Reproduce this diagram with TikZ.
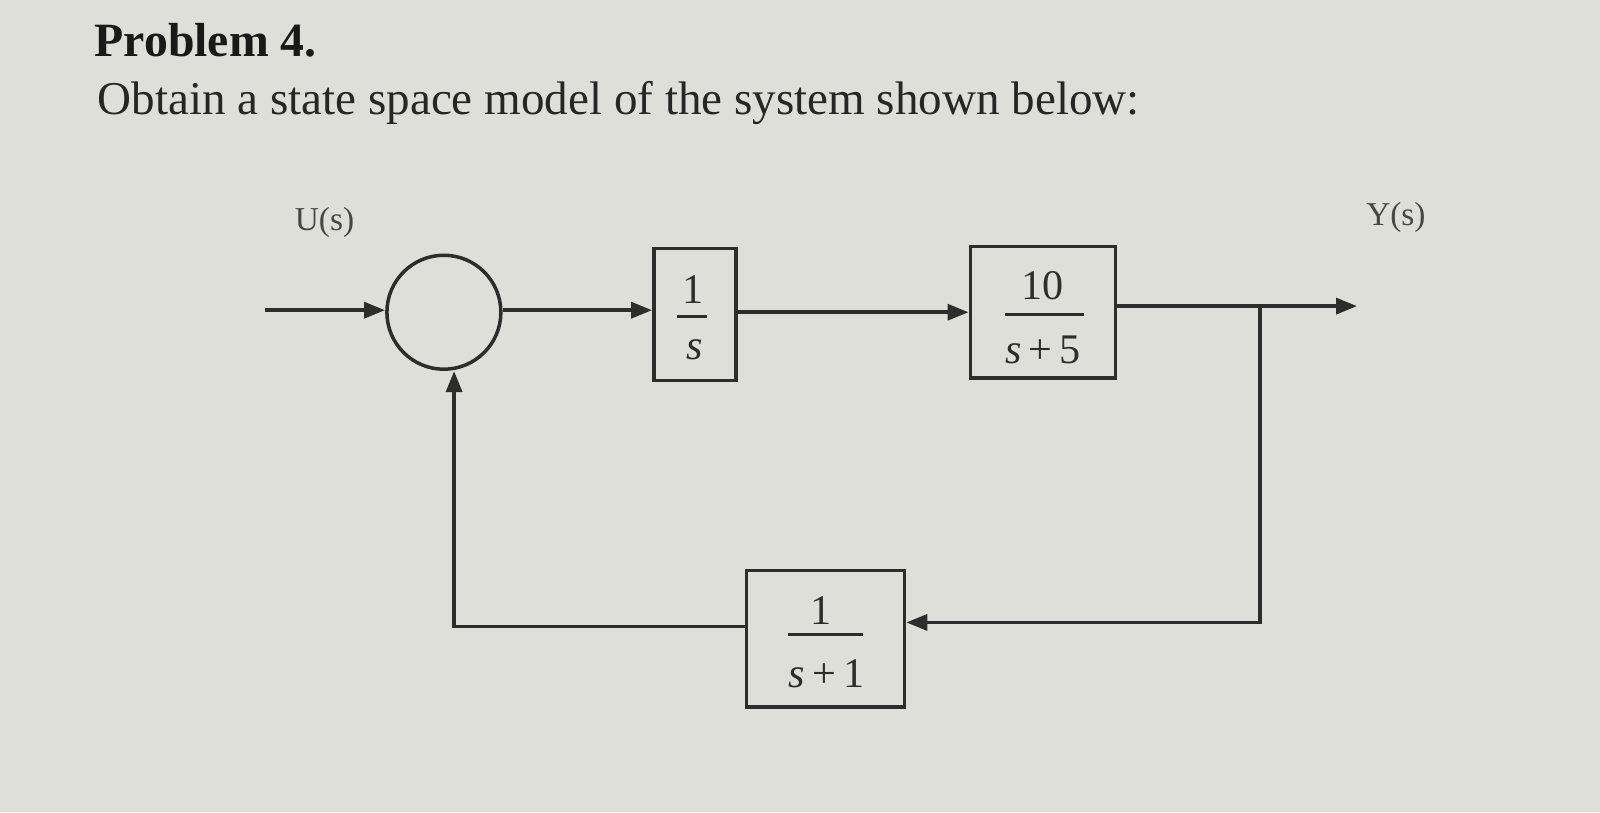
\documentclass[tikz,border=0pt]{standalone}
\usepackage{fontspec}
\setmainfont{Liberation Serif}
\usetikzlibrary{arrows.meta}
\definecolor{bg}{RGB}{223,223,217}
\definecolor{ink}{RGB}{45,45,45}
\definecolor{lbl}{RGB}{70,70,70}
\begin{document}
\begin{tikzpicture}[x=0.010204cm,y=-0.010204cm,
  wire/.style={draw=ink, line width=1.1pt},
  sig/.style={wire, -{Triangle[length=6pt,width=4.5pt]}},
  tfbox/.style={draw=ink, line width=1pt, inner sep=0pt},
  fr/.style={font=\fontsize{12}{12}\selectfont, text=ink, inner sep=0pt},
  bar/.style={draw=ink, line width=0.8pt},
  lab/.style={font=\fontsize{9.5}{9.5}\selectfont, text=lbl}]
\fill[bg] (0,0) rectangle (1568,796);
\useasboundingbox (0,0) rectangle (1568,796);
% titles
\node[anchor=base west, inner sep=0pt, font=\fontsize{13.6}{13.6}\selectfont\bfseries, text=black!90] (t1) at (92,55) {Problem 4.};
\node[anchor=base west, inner sep=0pt, font=\fontsize{13.4}{13.4}\selectfont, text=black!85] (t2) at (95,112) {Obtain a state space model of the system shown below:};
% labels
\node[lab] (ul) at (318,218) {U(s)};
\node[lab] (yl) at (1368,213) {Y(s)};
% blocks
\node[circle, draw=ink, line width=1pt, minimum size=1.14cm, inner sep=0pt] (sum) at (435,306) {};
\node[tfbox, minimum width=0.82cm, minimum height=1.32cm] (b1) at (681,308) {};
\node[tfbox, minimum width=1.45cm, minimum height=1.32cm] (b2) at (1022,306) {};
\node[tfbox, minimum width=1.58cm, minimum height=1.37cm] (b3) at (809,626) {};
% fractions
\node[fr] (n1) at (679,284) {1};
\draw[bar] (663,310) -- (693,310);
\node[fr] (d1) at (681,343) {\textit{s}};
\node[fr] (n2) at (1022,280) {10};
\draw[bar] (985,308) -- (1062,308);
\node[fr] (d2) at (1022,343) {\textit{s}\,+\,5};
\node[fr] (n3) at (805,598) {1};
\draw[bar] (772,622) -- (846,622);
\node[fr] (d3) at (810,660) {\textit{s}\,+\,1};
% connectors
\coordinate (in) at (260,304);
\coordinate (out) at (1330,300);
\coordinate (br) at (1235,300);
\draw[sig] (in) -- (sum.west |- in);
\draw[sig] (sum.east |- in) -- (b1.west |- in);
\draw[sig] (b1.east |- b2.west) -- (b2.west);
\draw[sig] (b2.east |- out) -- (out);
\draw[sig] (br) |- (b3.east |- 0,610);
\draw[sig] (b3.west |- 0,614) -| (sum.south -| 445,0);
\end{tikzpicture}
\end{document}
